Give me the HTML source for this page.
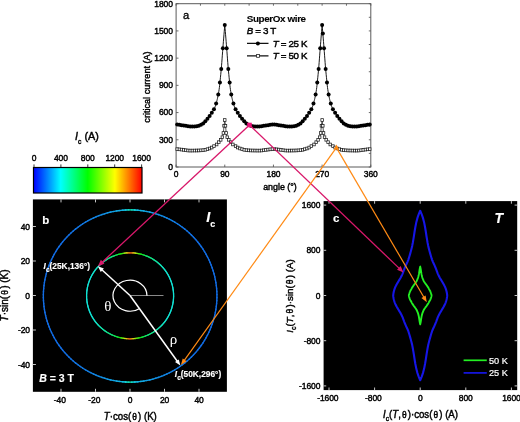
<!DOCTYPE html>
<html lang="en"><head><meta charset="utf-8"><title>Figure</title><style>html,body{margin:0;padding:0;background:#fff}</style></head><body>
<svg width="520" height="422" viewBox="0 0 520 422" style="display:block;filter:blur(0.4px);font-family:'Liberation Sans',sans-serif">
<defs><linearGradient id="cb" x1="0" x2="1" y1="0" y2="0"><stop offset="0" stop-color="#0000ff"/><stop offset="0.25" stop-color="#00ffff"/><stop offset="0.5" stop-color="#00ff00"/><stop offset="0.75" stop-color="#ffff00"/><stop offset="1" stop-color="#ff0000"/></linearGradient></defs>
<rect x="0" y="0" width="520" height="422" fill="#ffffff"/>
<rect x="32.9" y="199.4" width="194.0" height="192.4" fill="#000"/>
<rect x="323.6" y="201.1" width="193.60000000000002" height="189.00000000000003" fill="#000"/>
<rect x="176.1" y="3.7" width="194.70000000000002" height="163.30" fill="#fff" stroke="#5a5a5a" stroke-width="1"/>
<path d="M176.1 167.00h2.4M370.8 167.00h-2M370.8 153.39h-2M176.1 139.78h2.4M370.8 139.78h-2M370.8 126.17h-2M176.1 112.57h2.4M370.8 112.57h-2M370.8 98.96h-2M176.1 85.35h2.4M370.8 85.35h-2M370.8 71.74h-2M176.1 58.13h2.4M370.8 58.13h-2M370.8 44.52h-2M176.1 30.92h2.4M370.8 30.92h-2M370.8 17.31h-2M176.1 3.70h2.4M370.8 3.70h-2M176.10 167.0v-2.4M176.10 3.7v2M200.44 3.7v2M224.77 167.0v-2.4M224.77 3.7v2M249.11 3.7v2M273.45 167.0v-2.4M273.45 3.7v2M297.79 3.7v2M322.12 167.0v-2.4M322.12 3.7v2M346.46 3.7v2M370.80 167.0v-2.4M370.80 3.7v2" stroke="#5a5a5a" stroke-width="0.9" fill="none"/>
<text transform="translate(172.8 169.80)" font-size="8.5" text-anchor="end" fill="#000" stroke="#000" stroke-width="0.42" letter-spacing="-0.1">0</text>
<text transform="translate(172.8 142.58)" font-size="8.5" text-anchor="end" fill="#000" stroke="#000" stroke-width="0.42" letter-spacing="-0.1">300</text>
<text transform="translate(172.8 115.37)" font-size="8.5" text-anchor="end" fill="#000" stroke="#000" stroke-width="0.42" letter-spacing="-0.1">600</text>
<text transform="translate(172.8 88.15)" font-size="8.5" text-anchor="end" fill="#000" stroke="#000" stroke-width="0.42" letter-spacing="-0.1">900</text>
<text transform="translate(172.8 60.93)" font-size="8.5" text-anchor="end" fill="#000" stroke="#000" stroke-width="0.42" letter-spacing="-0.1">1200</text>
<text transform="translate(172.8 33.72)" font-size="8.5" text-anchor="end" fill="#000" stroke="#000" stroke-width="0.42" letter-spacing="-0.1">1500</text>
<text transform="translate(172.8 6.50)" font-size="8.5" text-anchor="end" fill="#000" stroke="#000" stroke-width="0.42" letter-spacing="-0.1">1800</text>
<text transform="translate(176.10 176.8)" font-size="8.5" text-anchor="middle" fill="#000" stroke="#000" stroke-width="0.42" letter-spacing="-0.1">0</text>
<text transform="translate(224.77 176.8)" font-size="8.5" text-anchor="middle" fill="#000" stroke="#000" stroke-width="0.42" letter-spacing="-0.1">90</text>
<text transform="translate(273.45 176.8)" font-size="8.5" text-anchor="middle" fill="#000" stroke="#000" stroke-width="0.42" letter-spacing="-0.1">180</text>
<text transform="translate(322.12 176.8)" font-size="8.5" text-anchor="middle" fill="#000" stroke="#000" stroke-width="0.42" letter-spacing="-0.1">270</text>
<text transform="translate(370.80 176.8)" font-size="8.5" text-anchor="middle" fill="#000" stroke="#000" stroke-width="0.42" letter-spacing="-0.1">360</text>
<text transform="translate(280 190.4)" font-size="8.9" text-anchor="middle" fill="#000" stroke="#000" stroke-width="0.42">angle (°)</text>
<text transform="translate(150.3 87.0) rotate(-90)" font-size="9.1" text-anchor="middle" fill="#000" stroke="#000" stroke-width="0.42">critical current (A)</text>
<text transform="translate(182.9 18.8)" font-size="11.2" fill="#000" stroke="#000" stroke-width="0.35">a</text>
<polyline points="176.10,149.04 176.37,149.06 176.64,149.09 176.91,149.11 177.18,149.14 177.45,149.16 177.72,149.19 177.99,149.22 178.26,149.24 178.53,149.27 178.80,149.30 179.07,149.32 179.34,149.35 179.62,149.38 179.89,149.41 180.16,149.44 180.43,149.46 180.70,149.49 180.97,149.52 181.24,149.55 181.51,149.58 181.78,149.61 182.05,149.65 182.32,149.68 182.59,149.72 182.86,149.76 183.13,149.80 183.40,149.84 183.67,149.88 183.94,149.93 184.21,149.97 184.48,150.02 184.75,150.06 185.02,150.11 185.29,150.15 185.56,150.19 185.84,150.23 186.11,150.27 186.38,150.31 186.65,150.35 186.92,150.39 187.19,150.42 187.46,150.45 187.73,150.48 188.00,150.50 188.27,150.53 188.54,150.54 188.81,150.56 189.08,150.57 189.35,150.58 189.62,150.58 189.89,150.58 190.16,150.58 190.43,150.58 190.70,150.58 190.97,150.58 191.24,150.57 191.51,150.57 191.78,150.57 192.05,150.57 192.32,150.57 192.60,150.57 192.87,150.56 193.14,150.56 193.41,150.56 193.68,150.55 193.95,150.55 194.22,150.55 194.49,150.54 194.76,150.54 195.03,150.54 195.30,150.53 195.57,150.53 195.84,150.52 196.11,150.52 196.38,150.51 196.65,150.51 196.92,150.50 197.19,150.50 197.46,150.49 197.73,150.49 198.00,150.48 198.27,150.48 198.54,150.47 198.81,150.46 199.09,150.45 199.36,150.44 199.63,150.42 199.90,150.41 200.17,150.40 200.44,150.38 200.71,150.36 200.98,150.34 201.25,150.32 201.52,150.30 201.79,150.28 202.06,150.26 202.33,150.24 202.60,150.21 202.87,150.18 203.14,150.16 203.41,150.13 203.68,150.10 203.95,150.07 204.22,150.03 204.49,149.99 204.76,149.94 205.03,149.88 205.31,149.80 205.58,149.73 205.85,149.64 206.12,149.56 206.39,149.48 206.66,149.40 206.93,149.32 207.20,149.25 207.47,149.17 207.74,149.10 208.01,149.02 208.28,148.94 208.55,148.85 208.82,148.77 209.09,148.67 209.36,148.58 209.63,148.48 209.90,148.38 210.17,148.28 210.44,148.17 210.71,148.05 210.98,147.93 211.25,147.81 211.52,147.68 211.79,147.53 212.07,147.38 212.34,147.21 212.61,147.03 212.88,146.85 213.15,146.67 213.42,146.48 213.69,146.30 213.96,146.13 214.23,145.97 214.50,145.82 214.77,145.67 215.04,145.53 215.31,145.38 215.58,145.22 215.85,145.06 216.12,144.88 216.39,144.68 216.66,144.46 216.93,144.22 217.20,143.95 217.47,143.67 217.74,143.37 218.01,143.07 218.28,142.78 218.56,142.48 218.83,142.17 219.10,141.85 219.37,141.53 219.64,141.20 219.91,140.86 220.18,140.51 220.45,140.16 220.72,139.81 220.99,139.45 221.26,139.05 221.53,138.60 221.80,138.15 222.07,137.71 222.34,137.21 222.61,136.60 222.88,135.81 223.15,134.79 223.42,132.34 223.69,129.17 223.96,126.69 224.23,124.36 224.50,122.13 224.77,120.01 225.05,122.13 225.32,124.36 225.59,126.69 225.86,129.17 226.13,132.34 226.40,134.79 226.67,135.81 226.94,136.60 227.21,137.21 227.48,137.71 227.75,138.15 228.02,138.60 228.29,139.05 228.56,139.45 228.83,139.81 229.10,140.16 229.37,140.51 229.64,140.86 229.91,141.20 230.18,141.53 230.45,141.85 230.72,142.17 230.99,142.48 231.26,142.78 231.54,143.07 231.81,143.37 232.08,143.67 232.35,143.95 232.62,144.22 232.89,144.46 233.16,144.68 233.43,144.88 233.70,145.06 233.97,145.22 234.24,145.38 234.51,145.53 234.78,145.67 235.05,145.82 235.32,145.97 235.59,146.13 235.86,146.30 236.13,146.48 236.40,146.67 236.67,146.85 236.94,147.03 237.21,147.21 237.48,147.38 237.75,147.53 238.03,147.68 238.30,147.81 238.57,147.93 238.84,148.05 239.11,148.17 239.38,148.28 239.65,148.38 239.92,148.48 240.19,148.58 240.46,148.67 240.73,148.77 241.00,148.85 241.27,148.94 241.54,149.02 241.81,149.10 242.08,149.17 242.35,149.25 242.62,149.32 242.89,149.40 243.16,149.48 243.43,149.56 243.70,149.64 243.97,149.73 244.25,149.80 244.52,149.88 244.79,149.94 245.06,149.99 245.33,150.03 245.60,150.07 245.87,150.10 246.14,150.13 246.41,150.16 246.68,150.18 246.95,150.21 247.22,150.24 247.49,150.26 247.76,150.28 248.03,150.30 248.30,150.32 248.57,150.34 248.84,150.36 249.11,150.38 249.38,150.40 249.65,150.41 249.92,150.42 250.19,150.44 250.46,150.45 250.74,150.46 251.01,150.47 251.28,150.48 251.55,150.48 251.82,150.49 252.09,150.49 252.36,150.50 252.63,150.50 252.90,150.51 253.17,150.51 253.44,150.52 253.71,150.52 253.98,150.53 254.25,150.53 254.52,150.54 254.79,150.54 255.06,150.54 255.33,150.55 255.60,150.55 255.87,150.55 256.14,150.56 256.41,150.56 256.68,150.56 256.95,150.57 257.23,150.57 257.50,150.57 257.77,150.57 258.04,150.57 258.31,150.57 258.58,150.58 258.85,150.58 259.12,150.58 259.39,150.58 259.66,150.58 259.93,150.58 260.20,150.58 260.47,150.57 260.74,150.56 261.01,150.54 261.28,150.53 261.55,150.50 261.82,150.48 262.09,150.45 262.36,150.42 262.63,150.39 262.90,150.35 263.17,150.31 263.44,150.27 263.72,150.23 263.99,150.19 264.26,150.15 264.53,150.11 264.80,150.06 265.07,150.02 265.34,149.97 265.61,149.93 265.88,149.88 266.15,149.84 266.42,149.80 266.69,149.76 266.96,149.72 267.23,149.68 267.50,149.65 267.77,149.61 268.04,149.58 268.31,149.55 268.58,149.52 268.85,149.49 269.12,149.46 269.39,149.44 269.66,149.41 269.93,149.38 270.20,149.35 270.48,149.32 270.75,149.30 271.02,149.27 271.29,149.24 271.56,149.22 271.83,149.19 272.10,149.16 272.37,149.14 272.64,149.11 272.91,149.09 273.18,149.06 273.45,149.04 273.72,149.06 273.99,149.09 274.26,149.11 274.53,149.14 274.80,149.16 275.07,149.19 275.34,149.22 275.61,149.24 275.88,149.27 276.15,149.30 276.42,149.32 276.69,149.35 276.97,149.38 277.24,149.41 277.51,149.44 277.78,149.46 278.05,149.49 278.32,149.52 278.59,149.55 278.86,149.58 279.13,149.61 279.40,149.65 279.67,149.68 279.94,149.72 280.21,149.76 280.48,149.80 280.75,149.84 281.02,149.88 281.29,149.93 281.56,149.97 281.83,150.02 282.10,150.06 282.37,150.11 282.64,150.15 282.91,150.19 283.19,150.23 283.46,150.27 283.73,150.31 284.00,150.35 284.27,150.39 284.54,150.42 284.81,150.45 285.08,150.48 285.35,150.50 285.62,150.53 285.89,150.54 286.16,150.56 286.43,150.57 286.70,150.58 286.97,150.58 287.24,150.58 287.51,150.58 287.78,150.58 288.05,150.58 288.32,150.58 288.59,150.57 288.86,150.57 289.13,150.57 289.40,150.57 289.68,150.57 289.95,150.57 290.22,150.56 290.49,150.56 290.76,150.56 291.03,150.55 291.30,150.55 291.57,150.55 291.84,150.54 292.11,150.54 292.38,150.54 292.65,150.53 292.92,150.53 293.19,150.52 293.46,150.52 293.73,150.51 294.00,150.51 294.27,150.50 294.54,150.50 294.81,150.49 295.08,150.49 295.35,150.48 295.62,150.48 295.89,150.47 296.16,150.46 296.44,150.45 296.71,150.44 296.98,150.42 297.25,150.41 297.52,150.40 297.79,150.38 298.06,150.36 298.33,150.34 298.60,150.32 298.87,150.30 299.14,150.28 299.41,150.26 299.68,150.24 299.95,150.21 300.22,150.18 300.49,150.16 300.76,150.13 301.03,150.10 301.30,150.07 301.57,150.03 301.84,149.99 302.11,149.94 302.38,149.88 302.65,149.80 302.93,149.73 303.20,149.64 303.47,149.56 303.74,149.48 304.01,149.40 304.28,149.32 304.55,149.25 304.82,149.17 305.09,149.10 305.36,149.02 305.63,148.94 305.90,148.85 306.17,148.77 306.44,148.67 306.71,148.58 306.98,148.48 307.25,148.38 307.52,148.28 307.79,148.17 308.06,148.05 308.33,147.93 308.60,147.81 308.87,147.68 309.14,147.53 309.42,147.38 309.69,147.21 309.96,147.03 310.23,146.85 310.50,146.67 310.77,146.48 311.04,146.30 311.31,146.13 311.58,145.97 311.85,145.82 312.12,145.67 312.39,145.53 312.66,145.38 312.93,145.22 313.20,145.06 313.47,144.88 313.74,144.68 314.01,144.46 314.28,144.22 314.55,143.95 314.82,143.67 315.09,143.37 315.36,143.07 315.63,142.78 315.91,142.48 316.18,142.17 316.45,141.85 316.72,141.53 316.99,141.20 317.26,140.86 317.53,140.51 317.80,140.16 318.07,139.81 318.34,139.45 318.61,139.05 318.88,138.60 319.15,138.15 319.42,137.71 319.69,137.21 319.96,136.60 320.23,135.81 320.50,134.79 320.77,132.34 321.04,129.17 321.31,126.69 321.58,124.36 321.85,122.13 322.12,120.01 322.40,122.13 322.67,124.36 322.94,126.69 323.21,129.17 323.48,132.34 323.75,134.79 324.02,135.81 324.29,136.60 324.56,137.21 324.83,137.71 325.10,138.15 325.37,138.60 325.64,139.05 325.91,139.45 326.18,139.81 326.45,140.16 326.72,140.51 326.99,140.86 327.26,141.20 327.53,141.53 327.80,141.85 328.07,142.17 328.34,142.48 328.62,142.78 328.89,143.07 329.16,143.37 329.43,143.67 329.70,143.95 329.97,144.22 330.24,144.46 330.51,144.68 330.78,144.88 331.05,145.06 331.32,145.22 331.59,145.38 331.86,145.53 332.13,145.67 332.40,145.82 332.67,145.97 332.94,146.13 333.21,146.30 333.48,146.48 333.75,146.67 334.02,146.85 334.29,147.03 334.56,147.21 334.83,147.38 335.11,147.53 335.38,147.68 335.65,147.81 335.92,147.93 336.19,148.05 336.46,148.17 336.73,148.28 337.00,148.38 337.27,148.48 337.54,148.58 337.81,148.67 338.08,148.77 338.35,148.85 338.62,148.94 338.89,149.02 339.16,149.10 339.43,149.17 339.70,149.25 339.97,149.32 340.24,149.40 340.51,149.48 340.78,149.56 341.05,149.64 341.32,149.73 341.60,149.80 341.87,149.88 342.14,149.94 342.41,149.99 342.68,150.03 342.95,150.07 343.22,150.10 343.49,150.13 343.76,150.16 344.03,150.18 344.30,150.21 344.57,150.24 344.84,150.26 345.11,150.28 345.38,150.30 345.65,150.32 345.92,150.34 346.19,150.36 346.46,150.38 346.73,150.40 347.00,150.41 347.27,150.42 347.54,150.44 347.81,150.45 348.09,150.46 348.36,150.47 348.63,150.48 348.90,150.48 349.17,150.49 349.44,150.49 349.71,150.50 349.98,150.50 350.25,150.51 350.52,150.51 350.79,150.52 351.06,150.52 351.33,150.53 351.60,150.53 351.87,150.54 352.14,150.54 352.41,150.54 352.68,150.55 352.95,150.55 353.22,150.55 353.49,150.56 353.76,150.56 354.03,150.56 354.30,150.57 354.58,150.57 354.85,150.57 355.12,150.57 355.39,150.57 355.66,150.57 355.93,150.58 356.20,150.58 356.47,150.58 356.74,150.58 357.01,150.58 357.28,150.58 357.55,150.58 357.82,150.57 358.09,150.56 358.36,150.54 358.63,150.53 358.90,150.50 359.17,150.48 359.44,150.45 359.71,150.42 359.98,150.39 360.25,150.35 360.52,150.31 360.79,150.27 361.07,150.23 361.34,150.19 361.61,150.15 361.88,150.11 362.15,150.06 362.42,150.02 362.69,149.97 362.96,149.93 363.23,149.88 363.50,149.84 363.77,149.80 364.04,149.76 364.31,149.72 364.58,149.68 364.85,149.65 365.12,149.61 365.39,149.58 365.66,149.55 365.93,149.52 366.20,149.49 366.47,149.46 366.74,149.44 367.01,149.41 367.28,149.38 367.56,149.35 367.83,149.32 368.10,149.30 368.37,149.27 368.64,149.24 368.91,149.22 369.18,149.19 369.45,149.16 369.72,149.14 369.99,149.11 370.26,149.09 370.53,149.06 370.80,149.04" fill="none" stroke="#222" stroke-width="0.8"/>
<polyline points="176.10,124.18 176.37,124.24 176.64,124.29 176.91,124.35 177.18,124.41 177.45,124.46 177.72,124.52 177.99,124.57 178.26,124.63 178.53,124.68 178.80,124.73 179.07,124.79 179.34,124.84 179.62,124.89 179.89,124.94 180.16,124.99 180.43,125.04 180.70,125.08 180.97,125.13 181.24,125.18 181.51,125.22 181.78,125.27 182.05,125.31 182.32,125.36 182.59,125.40 182.86,125.44 183.13,125.48 183.40,125.52 183.67,125.56 183.94,125.59 184.21,125.63 184.48,125.67 184.75,125.70 185.02,125.74 185.29,125.78 185.56,125.82 185.84,125.86 186.11,125.90 186.38,125.93 186.65,125.97 186.92,126.01 187.19,126.05 187.46,126.09 187.73,126.12 188.00,126.16 188.27,126.19 188.54,126.23 188.81,126.26 189.08,126.29 189.35,126.32 189.62,126.35 189.89,126.38 190.16,126.40 190.43,126.43 190.70,126.45 190.97,126.47 191.24,126.49 191.51,126.50 191.78,126.51 192.05,126.52 192.32,126.53 192.60,126.54 192.87,126.54 193.14,126.54 193.41,126.53 193.68,126.52 193.95,126.50 194.22,126.48 194.49,126.46 194.76,126.44 195.03,126.41 195.30,126.37 195.57,126.34 195.84,126.30 196.11,126.26 196.38,126.22 196.65,126.18 196.92,126.13 197.19,126.09 197.46,126.04 197.73,125.99 198.00,125.94 198.27,125.87 198.54,125.80 198.81,125.72 199.09,125.62 199.36,125.52 199.63,125.41 199.90,125.29 200.17,125.16 200.44,125.03 200.71,124.89 200.98,124.74 201.25,124.59 201.52,124.44 201.79,124.28 202.06,124.11 202.33,123.94 202.60,123.77 202.87,123.60 203.14,123.41 203.41,123.20 203.68,122.97 203.95,122.72 204.22,122.46 204.49,122.18 204.76,121.90 205.03,121.61 205.31,121.32 205.58,121.02 205.85,120.73 206.12,120.44 206.39,120.13 206.66,119.82 206.93,119.50 207.20,119.17 207.47,118.83 207.74,118.49 208.01,118.14 208.28,117.79 208.55,117.43 208.82,117.07 209.09,116.69 209.36,116.31 209.63,115.92 209.90,115.52 210.17,115.12 210.44,114.71 210.71,114.30 210.98,113.89 211.25,113.47 211.52,113.07 211.79,112.68 212.07,112.29 212.34,111.91 212.61,111.52 212.88,111.13 213.15,110.72 213.42,110.29 213.69,109.83 213.96,109.34 214.23,108.82 214.50,108.25 214.77,107.62 215.04,106.92 215.31,106.16 215.58,105.35 215.85,104.49 216.12,103.59 216.39,102.65 216.66,101.68 216.93,100.66 217.20,99.56 217.47,98.39 217.74,97.14 218.01,95.82 218.28,94.42 218.56,92.94 218.83,91.34 219.10,89.58 219.37,87.62 219.64,85.29 219.91,82.62 220.18,79.91 220.45,77.29 220.72,74.66 220.99,71.93 221.26,69.02 221.53,65.84 221.80,62.43 222.07,58.86 222.34,55.23 222.61,51.63 222.88,48.15 223.15,44.77 223.42,41.42 223.69,38.09 223.96,34.78 224.23,31.50 224.50,28.25 224.77,25.02 225.05,28.25 225.32,31.50 225.59,34.78 225.86,38.09 226.13,41.42 226.40,44.77 226.67,48.15 226.94,51.63 227.21,55.23 227.48,58.86 227.75,62.43 228.02,65.84 228.29,69.02 228.56,71.93 228.83,74.66 229.10,77.29 229.37,79.91 229.64,82.62 229.91,85.29 230.18,87.62 230.45,89.58 230.72,91.34 230.99,92.94 231.26,94.42 231.54,95.82 231.81,97.14 232.08,98.39 232.35,99.56 232.62,100.66 232.89,101.68 233.16,102.65 233.43,103.59 233.70,104.49 233.97,105.35 234.24,106.16 234.51,106.92 234.78,107.62 235.05,108.25 235.32,108.82 235.59,109.34 235.86,109.83 236.13,110.29 236.40,110.72 236.67,111.13 236.94,111.52 237.21,111.91 237.48,112.29 237.75,112.68 238.03,113.07 238.30,113.47 238.57,113.89 238.84,114.30 239.11,114.71 239.38,115.12 239.65,115.52 239.92,115.92 240.19,116.31 240.46,116.69 240.73,117.07 241.00,117.43 241.27,117.79 241.54,118.14 241.81,118.49 242.08,118.83 242.35,119.17 242.62,119.50 242.89,119.82 243.16,120.13 243.43,120.44 243.70,120.73 243.97,121.02 244.25,121.32 244.52,121.61 244.79,121.90 245.06,122.18 245.33,122.46 245.60,122.72 245.87,122.97 246.14,123.20 246.41,123.41 246.68,123.60 246.95,123.77 247.22,123.94 247.49,124.11 247.76,124.28 248.03,124.44 248.30,124.59 248.57,124.74 248.84,124.89 249.11,125.03 249.38,125.16 249.65,125.29 249.92,125.41 250.19,125.52 250.46,125.62 250.74,125.72 251.01,125.80 251.28,125.87 251.55,125.94 251.82,125.99 252.09,126.04 252.36,126.09 252.63,126.13 252.90,126.18 253.17,126.22 253.44,126.26 253.71,126.30 253.98,126.34 254.25,126.37 254.52,126.41 254.79,126.44 255.06,126.46 255.33,126.48 255.60,126.50 255.87,126.52 256.14,126.53 256.41,126.54 256.68,126.54 256.95,126.54 257.23,126.53 257.50,126.52 257.77,126.51 258.04,126.50 258.31,126.49 258.58,126.47 258.85,126.45 259.12,126.43 259.39,126.40 259.66,126.38 259.93,126.35 260.20,126.32 260.47,126.29 260.74,126.26 261.01,126.23 261.28,126.19 261.55,126.16 261.82,126.12 262.09,126.09 262.36,126.05 262.63,126.01 262.90,125.97 263.17,125.93 263.44,125.90 263.72,125.86 263.99,125.82 264.26,125.78 264.53,125.74 264.80,125.70 265.07,125.67 265.34,125.63 265.61,125.59 265.88,125.56 266.15,125.52 266.42,125.48 266.69,125.44 266.96,125.40 267.23,125.36 267.50,125.31 267.77,125.27 268.04,125.22 268.31,125.18 268.58,125.13 268.85,125.08 269.12,125.04 269.39,124.99 269.66,124.94 269.93,124.89 270.20,124.84 270.48,124.79 270.75,124.73 271.02,124.68 271.29,124.63 271.56,124.57 271.83,124.52 272.10,124.46 272.37,124.41 272.64,124.35 272.91,124.29 273.18,124.24 273.45,124.18 273.72,124.24 273.99,124.29 274.26,124.35 274.53,124.41 274.80,124.46 275.07,124.52 275.34,124.57 275.61,124.63 275.88,124.68 276.15,124.73 276.42,124.79 276.69,124.84 276.97,124.89 277.24,124.94 277.51,124.99 277.78,125.04 278.05,125.08 278.32,125.13 278.59,125.18 278.86,125.22 279.13,125.27 279.40,125.31 279.67,125.36 279.94,125.40 280.21,125.44 280.48,125.48 280.75,125.52 281.02,125.56 281.29,125.59 281.56,125.63 281.83,125.67 282.10,125.70 282.37,125.74 282.64,125.78 282.91,125.82 283.19,125.86 283.46,125.90 283.73,125.93 284.00,125.97 284.27,126.01 284.54,126.05 284.81,126.09 285.08,126.12 285.35,126.16 285.62,126.19 285.89,126.23 286.16,126.26 286.43,126.29 286.70,126.32 286.97,126.35 287.24,126.38 287.51,126.40 287.78,126.43 288.05,126.45 288.32,126.47 288.59,126.49 288.86,126.50 289.13,126.51 289.40,126.52 289.68,126.53 289.95,126.54 290.22,126.54 290.49,126.54 290.76,126.53 291.03,126.52 291.30,126.50 291.57,126.48 291.84,126.46 292.11,126.44 292.38,126.41 292.65,126.37 292.92,126.34 293.19,126.30 293.46,126.26 293.73,126.22 294.00,126.18 294.27,126.13 294.54,126.09 294.81,126.04 295.08,125.99 295.35,125.94 295.62,125.87 295.89,125.80 296.16,125.72 296.44,125.62 296.71,125.52 296.98,125.41 297.25,125.29 297.52,125.16 297.79,125.03 298.06,124.89 298.33,124.74 298.60,124.59 298.87,124.44 299.14,124.28 299.41,124.11 299.68,123.94 299.95,123.77 300.22,123.60 300.49,123.41 300.76,123.20 301.03,122.97 301.30,122.72 301.57,122.46 301.84,122.18 302.11,121.90 302.38,121.61 302.65,121.32 302.93,121.02 303.20,120.73 303.47,120.44 303.74,120.13 304.01,119.82 304.28,119.50 304.55,119.17 304.82,118.83 305.09,118.49 305.36,118.14 305.63,117.79 305.90,117.43 306.17,117.07 306.44,116.69 306.71,116.31 306.98,115.92 307.25,115.52 307.52,115.12 307.79,114.71 308.06,114.30 308.33,113.89 308.60,113.47 308.87,113.07 309.14,112.68 309.42,112.29 309.69,111.91 309.96,111.52 310.23,111.13 310.50,110.72 310.77,110.29 311.04,109.83 311.31,109.34 311.58,108.82 311.85,108.25 312.12,107.62 312.39,106.92 312.66,106.16 312.93,105.35 313.20,104.49 313.47,103.59 313.74,102.65 314.01,101.68 314.28,100.66 314.55,99.56 314.82,98.39 315.09,97.14 315.36,95.82 315.63,94.42 315.91,92.94 316.18,91.34 316.45,89.58 316.72,87.62 316.99,85.29 317.26,82.62 317.53,79.91 317.80,77.29 318.07,74.66 318.34,71.93 318.61,69.02 318.88,65.84 319.15,62.43 319.42,58.86 319.69,55.23 319.96,51.63 320.23,48.15 320.50,44.77 320.77,41.42 321.04,38.09 321.31,34.78 321.58,31.50 321.85,28.25 322.12,25.02 322.40,28.25 322.67,31.50 322.94,34.78 323.21,38.09 323.48,41.42 323.75,44.77 324.02,48.15 324.29,51.63 324.56,55.23 324.83,58.86 325.10,62.43 325.37,65.84 325.64,69.02 325.91,71.93 326.18,74.66 326.45,77.29 326.72,79.91 326.99,82.62 327.26,85.29 327.53,87.62 327.80,89.58 328.07,91.34 328.34,92.94 328.62,94.42 328.89,95.82 329.16,97.14 329.43,98.39 329.70,99.56 329.97,100.66 330.24,101.68 330.51,102.65 330.78,103.59 331.05,104.49 331.32,105.35 331.59,106.16 331.86,106.92 332.13,107.62 332.40,108.25 332.67,108.82 332.94,109.34 333.21,109.83 333.48,110.29 333.75,110.72 334.02,111.13 334.29,111.52 334.56,111.91 334.83,112.29 335.11,112.68 335.38,113.07 335.65,113.47 335.92,113.89 336.19,114.30 336.46,114.71 336.73,115.12 337.00,115.52 337.27,115.92 337.54,116.31 337.81,116.69 338.08,117.07 338.35,117.43 338.62,117.79 338.89,118.14 339.16,118.49 339.43,118.83 339.70,119.17 339.97,119.50 340.24,119.82 340.51,120.13 340.78,120.44 341.05,120.73 341.32,121.02 341.60,121.32 341.87,121.61 342.14,121.90 342.41,122.18 342.68,122.46 342.95,122.72 343.22,122.97 343.49,123.20 343.76,123.41 344.03,123.60 344.30,123.77 344.57,123.94 344.84,124.11 345.11,124.28 345.38,124.44 345.65,124.59 345.92,124.74 346.19,124.89 346.46,125.03 346.73,125.16 347.00,125.29 347.27,125.41 347.54,125.52 347.81,125.62 348.09,125.72 348.36,125.80 348.63,125.87 348.90,125.94 349.17,125.99 349.44,126.04 349.71,126.09 349.98,126.13 350.25,126.18 350.52,126.22 350.79,126.26 351.06,126.30 351.33,126.34 351.60,126.37 351.87,126.41 352.14,126.44 352.41,126.46 352.68,126.48 352.95,126.50 353.22,126.52 353.49,126.53 353.76,126.54 354.03,126.54 354.30,126.54 354.58,126.53 354.85,126.52 355.12,126.51 355.39,126.50 355.66,126.49 355.93,126.47 356.20,126.45 356.47,126.43 356.74,126.40 357.01,126.38 357.28,126.35 357.55,126.32 357.82,126.29 358.09,126.26 358.36,126.23 358.63,126.19 358.90,126.16 359.17,126.12 359.44,126.09 359.71,126.05 359.98,126.01 360.25,125.97 360.52,125.93 360.79,125.90 361.07,125.86 361.34,125.82 361.61,125.78 361.88,125.74 362.15,125.70 362.42,125.67 362.69,125.63 362.96,125.59 363.23,125.56 363.50,125.52 363.77,125.48 364.04,125.44 364.31,125.40 364.58,125.36 364.85,125.31 365.12,125.27 365.39,125.22 365.66,125.18 365.93,125.13 366.20,125.08 366.47,125.04 366.74,124.99 367.01,124.94 367.28,124.89 367.56,124.84 367.83,124.79 368.10,124.73 368.37,124.68 368.64,124.63 368.91,124.57 369.18,124.52 369.45,124.46 369.72,124.41 369.99,124.35 370.26,124.29 370.53,124.24 370.80,124.18" fill="none" stroke="#000" stroke-width="0.9"/>
<g fill="#fff" stroke="#1a1a1a" stroke-width="0.75"><rect x="175.93" y="147.79" width="2.5" height="2.7"/><rect x="178.09" y="148.00" width="2.5" height="2.7"/><rect x="180.26" y="148.23" width="2.5" height="2.7"/><rect x="182.42" y="148.53" width="2.5" height="2.7"/><rect x="184.59" y="148.88" width="2.5" height="2.7"/><rect x="186.75" y="149.15" width="2.5" height="2.7"/><rect x="188.91" y="149.23" width="2.5" height="2.7"/><rect x="191.07" y="149.22" width="2.5" height="2.7"/><rect x="193.24" y="149.19" width="2.5" height="2.7"/><rect x="195.40" y="149.16" width="2.5" height="2.7"/><rect x="197.56" y="149.11" width="2.5" height="2.7"/><rect x="199.73" y="148.99" width="2.5" height="2.7"/><rect x="201.89" y="148.81" width="2.5" height="2.7"/><rect x="204.06" y="148.45" width="2.5" height="2.7"/><rect x="206.22" y="147.82" width="2.5" height="2.7"/><rect x="208.38" y="147.13" width="2.5" height="2.7"/><rect x="210.54" y="146.18" width="2.5" height="2.7"/><rect x="212.71" y="144.78" width="2.5" height="2.7"/><rect x="215.41" y="143.11" width="2.5" height="2.7"/><rect x="217.58" y="140.82" width="2.5" height="2.7"/><rect x="219.47" y="138.46" width="2.5" height="2.7"/><rect x="221.09" y="135.86" width="2.5" height="2.7"/><rect x="222.12" y="131.63" width="2.5" height="2.7"/><rect x="222.82" y="124.39" width="2.5" height="2.7"/><rect x="223.52" y="118.66" width="2.5" height="2.7"/><rect x="224.23" y="124.39" width="2.5" height="2.7"/><rect x="224.93" y="131.63" width="2.5" height="2.7"/><rect x="225.96" y="135.86" width="2.5" height="2.7"/><rect x="227.58" y="138.46" width="2.5" height="2.7"/><rect x="229.47" y="140.82" width="2.5" height="2.7"/><rect x="231.64" y="143.11" width="2.5" height="2.7"/><rect x="234.34" y="144.78" width="2.5" height="2.7"/><rect x="236.50" y="146.18" width="2.5" height="2.7"/><rect x="238.67" y="147.13" width="2.5" height="2.7"/><rect x="240.83" y="147.82" width="2.5" height="2.7"/><rect x="243.00" y="148.45" width="2.5" height="2.7"/><rect x="245.16" y="148.81" width="2.5" height="2.7"/><rect x="247.32" y="148.99" width="2.5" height="2.7"/><rect x="249.49" y="149.11" width="2.5" height="2.7"/><rect x="251.65" y="149.16" width="2.5" height="2.7"/><rect x="253.81" y="149.19" width="2.5" height="2.7"/><rect x="255.98" y="149.22" width="2.5" height="2.7"/><rect x="258.14" y="149.23" width="2.5" height="2.7"/><rect x="260.30" y="149.15" width="2.5" height="2.7"/><rect x="262.47" y="148.88" width="2.5" height="2.7"/><rect x="264.63" y="148.53" width="2.5" height="2.7"/><rect x="266.79" y="148.23" width="2.5" height="2.7"/><rect x="268.95" y="148.00" width="2.5" height="2.7"/><rect x="271.12" y="147.79" width="2.5" height="2.7"/><rect x="273.28" y="147.79" width="2.5" height="2.7"/><rect x="275.44" y="148.00" width="2.5" height="2.7"/><rect x="277.61" y="148.23" width="2.5" height="2.7"/><rect x="279.77" y="148.53" width="2.5" height="2.7"/><rect x="281.94" y="148.88" width="2.5" height="2.7"/><rect x="284.10" y="149.15" width="2.5" height="2.7"/><rect x="286.26" y="149.23" width="2.5" height="2.7"/><rect x="288.43" y="149.22" width="2.5" height="2.7"/><rect x="290.59" y="149.19" width="2.5" height="2.7"/><rect x="292.75" y="149.16" width="2.5" height="2.7"/><rect x="294.91" y="149.11" width="2.5" height="2.7"/><rect x="297.08" y="148.99" width="2.5" height="2.7"/><rect x="299.24" y="148.81" width="2.5" height="2.7"/><rect x="301.40" y="148.45" width="2.5" height="2.7"/><rect x="303.57" y="147.82" width="2.5" height="2.7"/><rect x="305.73" y="147.13" width="2.5" height="2.7"/><rect x="307.89" y="146.18" width="2.5" height="2.7"/><rect x="310.06" y="144.78" width="2.5" height="2.7"/><rect x="312.76" y="143.11" width="2.5" height="2.7"/><rect x="314.93" y="140.82" width="2.5" height="2.7"/><rect x="316.82" y="138.46" width="2.5" height="2.7"/><rect x="318.44" y="135.86" width="2.5" height="2.7"/><rect x="319.47" y="131.63" width="2.5" height="2.7"/><rect x="320.17" y="124.39" width="2.5" height="2.7"/><rect x="320.88" y="118.66" width="2.5" height="2.7"/><rect x="321.58" y="124.39" width="2.5" height="2.7"/><rect x="322.28" y="131.63" width="2.5" height="2.7"/><rect x="323.31" y="135.86" width="2.5" height="2.7"/><rect x="324.93" y="138.46" width="2.5" height="2.7"/><rect x="326.82" y="140.82" width="2.5" height="2.7"/><rect x="328.99" y="143.11" width="2.5" height="2.7"/><rect x="331.69" y="144.78" width="2.5" height="2.7"/><rect x="333.86" y="146.18" width="2.5" height="2.7"/><rect x="336.02" y="147.13" width="2.5" height="2.7"/><rect x="338.18" y="147.82" width="2.5" height="2.7"/><rect x="340.35" y="148.45" width="2.5" height="2.7"/><rect x="342.51" y="148.81" width="2.5" height="2.7"/><rect x="344.67" y="148.99" width="2.5" height="2.7"/><rect x="346.84" y="149.11" width="2.5" height="2.7"/><rect x="349.00" y="149.16" width="2.5" height="2.7"/><rect x="351.16" y="149.19" width="2.5" height="2.7"/><rect x="353.33" y="149.22" width="2.5" height="2.7"/><rect x="355.49" y="149.23" width="2.5" height="2.7"/><rect x="357.65" y="149.15" width="2.5" height="2.7"/><rect x="359.82" y="148.88" width="2.5" height="2.7"/><rect x="361.98" y="148.53" width="2.5" height="2.7"/><rect x="364.14" y="148.23" width="2.5" height="2.7"/><rect x="366.31" y="148.00" width="2.5" height="2.7"/><rect x="368.47" y="147.79" width="2.5" height="2.7"/></g>
<g fill="#000"><circle cx="177.18" cy="124.41" r="2.0"/><circle cx="179.34" cy="124.84" r="2.0"/><circle cx="181.51" cy="125.22" r="2.0"/><circle cx="183.67" cy="125.56" r="2.0"/><circle cx="185.84" cy="125.86" r="2.0"/><circle cx="188.00" cy="126.16" r="2.0"/><circle cx="190.16" cy="126.40" r="2.0"/><circle cx="192.32" cy="126.53" r="2.0"/><circle cx="194.49" cy="126.46" r="2.0"/><circle cx="196.65" cy="126.18" r="2.0"/><circle cx="198.81" cy="125.72" r="2.0"/><circle cx="200.98" cy="124.74" r="2.0"/><circle cx="203.14" cy="123.41" r="2.0"/><circle cx="205.31" cy="121.32" r="2.0"/><circle cx="207.47" cy="118.83" r="2.0"/><circle cx="209.63" cy="115.92" r="2.0"/><circle cx="211.79" cy="112.68" r="2.0"/><circle cx="213.96" cy="109.34" r="2.0"/><circle cx="216.12" cy="103.59" r="2.0"/><circle cx="218.28" cy="94.42" r="2.0"/><circle cx="219.91" cy="82.62" r="2.0"/><circle cx="221.26" cy="69.02" r="2.0"/><circle cx="222.88" cy="48.15" r="2.0"/><circle cx="224.77" cy="25.02" r="2.0"/><circle cx="226.67" cy="48.15" r="2.0"/><circle cx="228.29" cy="69.02" r="2.0"/><circle cx="229.64" cy="82.62" r="2.0"/><circle cx="231.26" cy="94.42" r="2.0"/><circle cx="233.43" cy="103.59" r="2.0"/><circle cx="235.59" cy="109.34" r="2.0"/><circle cx="237.75" cy="112.68" r="2.0"/><circle cx="239.92" cy="115.92" r="2.0"/><circle cx="242.08" cy="118.83" r="2.0"/><circle cx="244.25" cy="121.32" r="2.0"/><circle cx="246.41" cy="123.41" r="2.0"/><circle cx="248.57" cy="124.74" r="2.0"/><circle cx="250.74" cy="125.72" r="2.0"/><circle cx="252.90" cy="126.18" r="2.0"/><circle cx="255.06" cy="126.46" r="2.0"/><circle cx="257.23" cy="126.53" r="2.0"/><circle cx="259.39" cy="126.40" r="2.0"/><circle cx="261.55" cy="126.16" r="2.0"/><circle cx="263.72" cy="125.86" r="2.0"/><circle cx="265.88" cy="125.56" r="2.0"/><circle cx="268.04" cy="125.22" r="2.0"/><circle cx="270.20" cy="124.84" r="2.0"/><circle cx="272.37" cy="124.41" r="2.0"/><circle cx="274.53" cy="124.41" r="2.0"/><circle cx="276.69" cy="124.84" r="2.0"/><circle cx="278.86" cy="125.22" r="2.0"/><circle cx="281.02" cy="125.56" r="2.0"/><circle cx="283.19" cy="125.86" r="2.0"/><circle cx="285.35" cy="126.16" r="2.0"/><circle cx="287.51" cy="126.40" r="2.0"/><circle cx="289.68" cy="126.53" r="2.0"/><circle cx="291.84" cy="126.46" r="2.0"/><circle cx="294.00" cy="126.18" r="2.0"/><circle cx="296.16" cy="125.72" r="2.0"/><circle cx="298.33" cy="124.74" r="2.0"/><circle cx="300.49" cy="123.41" r="2.0"/><circle cx="302.65" cy="121.32" r="2.0"/><circle cx="304.82" cy="118.83" r="2.0"/><circle cx="306.98" cy="115.92" r="2.0"/><circle cx="309.14" cy="112.68" r="2.0"/><circle cx="311.31" cy="109.34" r="2.0"/><circle cx="313.47" cy="103.59" r="2.0"/><circle cx="315.63" cy="94.42" r="2.0"/><circle cx="317.26" cy="82.62" r="2.0"/><circle cx="318.61" cy="69.02" r="2.0"/><circle cx="320.23" cy="48.15" r="2.0"/><circle cx="322.12" cy="25.02" r="2.0"/><circle cx="324.02" cy="48.15" r="2.0"/><circle cx="325.64" cy="69.02" r="2.0"/><circle cx="326.99" cy="82.62" r="2.0"/><circle cx="328.62" cy="94.42" r="2.0"/><circle cx="330.78" cy="103.59" r="2.0"/><circle cx="332.94" cy="109.34" r="2.0"/><circle cx="335.11" cy="112.68" r="2.0"/><circle cx="337.27" cy="115.92" r="2.0"/><circle cx="339.43" cy="118.83" r="2.0"/><circle cx="341.60" cy="121.32" r="2.0"/><circle cx="343.76" cy="123.41" r="2.0"/><circle cx="345.92" cy="124.74" r="2.0"/><circle cx="348.09" cy="125.72" r="2.0"/><circle cx="350.25" cy="126.18" r="2.0"/><circle cx="352.41" cy="126.46" r="2.0"/><circle cx="354.58" cy="126.53" r="2.0"/><circle cx="356.74" cy="126.40" r="2.0"/><circle cx="358.90" cy="126.16" r="2.0"/><circle cx="361.07" cy="125.86" r="2.0"/><circle cx="363.23" cy="125.56" r="2.0"/><circle cx="365.39" cy="125.22" r="2.0"/><circle cx="367.56" cy="124.84" r="2.0"/><circle cx="369.72" cy="124.41" r="2.0"/><circle cx="322.83" cy="33.46" r="2.0"/></g>
<text transform="translate(246.8 21.6)" font-size="9.9" font-weight="bold" fill="#000" stroke="#000" stroke-width="0.1" letter-spacing="-0.4">SuperOx wire</text>
<text transform="translate(246.8 34.3)" font-size="9.8" fill="#000" stroke="#000" stroke-width="0.42" letter-spacing="-0.37"><tspan font-style="italic">B</tspan> = 3 T</text>
<path d="M247 43.4H268.5M247 55.9H268.5" stroke="#111" stroke-width="1.1"/>
<circle cx="257.9" cy="43.4" r="2" fill="#000"/>
<rect x="256.6" y="54.5" width="2.8" height="2.8" fill="#fff" stroke="#222" stroke-width="0.8"/>
<text transform="translate(272.8 46.5)" font-size="9.8" fill="#000" stroke="#000" stroke-width="0.42" letter-spacing="-0.37"><tspan font-style="italic">T</tspan> = 25 K</text>
<text transform="translate(272.8 59.3)" font-size="9.8" fill="#000" stroke="#000" stroke-width="0.42" letter-spacing="-0.37"><tspan font-style="italic">T</tspan> = 50 K</text>
<rect x="33.5" y="167.5" width="108.5" height="25.5" fill="url(#cb)" stroke="#000" stroke-width="1.2"/>
<text transform="translate(34.00 160.9)" font-size="8.5" text-anchor="middle" fill="#000" stroke="#000" stroke-width="0.42" letter-spacing="-0.1">0</text>
<text transform="translate(60.90 160.9)" font-size="8.5" text-anchor="middle" fill="#000" stroke="#000" stroke-width="0.42" letter-spacing="-0.1">400</text>
<text transform="translate(87.80 160.9)" font-size="8.5" text-anchor="middle" fill="#000" stroke="#000" stroke-width="0.42" letter-spacing="-0.1">800</text>
<text transform="translate(114.70 160.9)" font-size="8.5" text-anchor="middle" fill="#000" stroke="#000" stroke-width="0.42" letter-spacing="-0.1">1200</text>
<text transform="translate(141.60 160.9)" font-size="8.5" text-anchor="middle" fill="#000" stroke="#000" stroke-width="0.42" letter-spacing="-0.1">1600</text>
<path d="M34.00 167v-2.6M60.90 167v-2.6M87.80 167v-2.6M114.70 167v-2.6M141.60 167v-2.6" stroke="#222" stroke-width="0.9"/>
<text transform="translate(75 140)" font-size="10.8" fill="#000" stroke="#000" stroke-width="0.42"><tspan font-style="italic">I</tspan><tspan font-size="6.8" dy="4.4">c</tspan><tspan dy="-4.4"> (A)</tspan></text>
<text transform="translate(59.80 402.7)" font-size="8.5" text-anchor="middle" fill="#000" stroke="#000" stroke-width="0.42" letter-spacing="-0.1">-40</text>
<text transform="translate(29.9 367.50)" font-size="8.5" text-anchor="end" fill="#000" stroke="#000" stroke-width="0.42" letter-spacing="-0.1">-40</text>
<text transform="translate(94.30 402.7)" font-size="8.5" text-anchor="middle" fill="#000" stroke="#000" stroke-width="0.42" letter-spacing="-0.1">-20</text>
<text transform="translate(29.9 333.00)" font-size="8.5" text-anchor="end" fill="#000" stroke="#000" stroke-width="0.42" letter-spacing="-0.1">-20</text>
<text transform="translate(130.00 402.7)" font-size="8.5" text-anchor="middle" fill="#000" stroke="#000" stroke-width="0.42" letter-spacing="-0.1">0</text>
<text transform="translate(29.9 298.50)" font-size="8.5" text-anchor="end" fill="#000" stroke="#000" stroke-width="0.42" letter-spacing="-0.1">0</text>
<text transform="translate(164.50 402.7)" font-size="8.5" text-anchor="middle" fill="#000" stroke="#000" stroke-width="0.42" letter-spacing="-0.1">20</text>
<text transform="translate(29.9 264.00)" font-size="8.5" text-anchor="end" fill="#000" stroke="#000" stroke-width="0.42" letter-spacing="-0.1">20</text>
<text transform="translate(199.00 402.7)" font-size="8.5" text-anchor="middle" fill="#000" stroke="#000" stroke-width="0.42" letter-spacing="-0.1">40</text>
<text transform="translate(29.9 229.50)" font-size="8.5" text-anchor="end" fill="#000" stroke="#000" stroke-width="0.42" letter-spacing="-0.1">40</text>
<path d="M61.00 391.8v-3M61.00 199.4v3M32.9 364.50h3M95.50 391.8v-3M95.50 199.4v3M32.9 330.00h3M130.00 391.8v-3M130.00 199.4v3M32.9 295.50h3M164.50 391.8v-3M164.50 199.4v3M32.9 261.00h3M199.00 391.8v-3M199.00 199.4v3M32.9 226.50h3" stroke="#ddd" stroke-width="0.9"/>
<text transform="translate(130.3 419.5) scale(0.97 1)" font-size="10.0" text-anchor="middle" fill="#000" stroke="#000" stroke-width="0.42"><tspan font-style="italic">T</tspan>·cos(<tspan dx="1.1" style="font-family:'Liberation Serif','DejaVu Serif',serif">θ</tspan><tspan dx="1.1">)</tspan> (K)</text>
<text transform="translate(7.9 295.4) rotate(-90)" font-size="10.0" text-anchor="middle" fill="#000" stroke="#000" stroke-width="0.42"><tspan font-style="italic">T</tspan>·sin(<tspan dx="1.1" style="font-family:'Liberation Serif','DejaVu Serif',serif">θ</tspan><tspan dx="1.1">)</tspan> (K)</text>
<g fill="none" stroke-width="1.35" stroke-linecap="round"><path d="M216.93 297.95L216.93 294.05" stroke="#126de3"/><path d="M216.94 294.95L216.81 291.04" stroke="#126de3"/><path d="M216.85 291.94L216.58 288.05" stroke="#126ce3"/><path d="M216.66 288.95L216.25 285.06" stroke="#126ce3"/><path d="M216.36 285.95L215.81 282.09" stroke="#126ce3"/><path d="M215.95 282.98L215.27 279.13" stroke="#126ce3"/><path d="M215.44 280.01L214.62 276.19" stroke="#126ce3"/><path d="M214.83 277.07L213.87 273.28" stroke="#126ce3"/><path d="M214.11 274.15L213.02 270.40" stroke="#126ce3"/><path d="M213.29 271.26L212.07 267.54" stroke="#126ce3"/><path d="M212.37 268.40L211.02 264.72" stroke="#126ce3"/><path d="M211.35 265.57L209.87 261.94" stroke="#126ce3"/><path d="M210.23 262.77L208.62 259.20" stroke="#126ce3"/><path d="M209.01 260.02L207.28 256.51" stroke="#126ce3"/><path d="M207.69 257.31L205.85 253.86" stroke="#126ce3"/><path d="M206.29 254.65L204.32 251.27" stroke="#126ce3"/><path d="M204.79 252.04L202.70 248.73" stroke="#126de3"/><path d="M203.19 249.49L200.99 246.25" stroke="#126de3"/><path d="M201.51 246.99L199.20 243.82" stroke="#126de3"/><path d="M199.74 244.54L197.32 241.47" stroke="#126de3"/><path d="M197.89 242.17L195.36 239.17" stroke="#126de3"/><path d="M195.96 239.85L193.32 236.95" stroke="#126ee3"/><path d="M193.94 237.61L191.20 234.80" stroke="#126fe3"/><path d="M191.85 235.44L189.01 232.72" stroke="#1271e3"/><path d="M189.68 233.34L186.75 230.72" stroke="#1271e3"/><path d="M187.44 231.32L184.42 228.80" stroke="#1273e3"/><path d="M185.13 229.37L182.02 226.97" stroke="#1275e3"/><path d="M182.75 227.51L179.56 225.21" stroke="#1276e3"/><path d="M180.31 225.73L177.04 223.55" stroke="#1278e3"/><path d="M177.81 224.04L174.47 221.97" stroke="#127ae3"/><path d="M175.24 222.43L171.83 220.48" stroke="#127ce3"/><path d="M172.63 220.91L169.15 219.08" stroke="#127fe3"/><path d="M169.96 219.49L166.42 217.78" stroke="#1282e3"/><path d="M167.24 218.16L163.65 216.57" stroke="#1285e3"/><path d="M164.48 216.92L160.83 215.46" stroke="#1288e3"/><path d="M161.68 215.78L157.98 214.45" stroke="#128be3"/><path d="M158.84 214.74L155.09 213.53" stroke="#128ee3"/><path d="M155.96 213.80L152.18 212.72" stroke="#1294e3"/><path d="M153.05 212.95L149.23 212.01" stroke="#1299e3"/><path d="M150.12 212.21L146.27 211.40" stroke="#129fe3"/><path d="M147.16 211.57L143.28 210.89" stroke="#12a4e3"/><path d="M144.18 211.03L140.28 210.49" stroke="#12abe3"/><path d="M141.18 210.60L137.26 210.19" stroke="#12b3e3"/><path d="M138.17 210.27L134.24 210.00" stroke="#12bfe3"/><path d="M135.15 210.04L131.21 209.91" stroke="#12e3da"/><path d="M132.12 209.92L128.18 209.92" stroke="#12e3b2"/><path d="M129.09 209.91L125.15 210.04" stroke="#12e3da"/><path d="M126.06 210.00L122.13 210.27" stroke="#12bfe3"/><path d="M123.04 210.19L119.12 210.60" stroke="#12b3e3"/><path d="M120.02 210.49L116.12 211.03" stroke="#12abe3"/><path d="M117.02 210.89L113.14 211.57" stroke="#12a4e3"/><path d="M114.03 211.40L110.18 212.21" stroke="#129fe3"/><path d="M111.07 212.01L107.25 212.95" stroke="#1299e3"/><path d="M108.12 212.72L104.34 213.80" stroke="#1294e3"/><path d="M105.21 213.53L101.46 214.74" stroke="#128ee3"/><path d="M102.32 214.45L98.62 215.78" stroke="#128be3"/><path d="M99.47 215.46L95.82 216.92" stroke="#1288e3"/><path d="M96.65 216.57L93.06 218.16" stroke="#1285e3"/><path d="M93.88 217.78L90.34 219.49" stroke="#1282e3"/><path d="M91.15 219.08L87.67 220.91" stroke="#127fe3"/><path d="M88.47 220.48L85.06 222.43" stroke="#127ce3"/><path d="M85.83 221.97L82.49 224.04" stroke="#127ae3"/><path d="M83.26 223.55L79.99 225.73" stroke="#1278e3"/><path d="M80.74 225.21L77.55 227.51" stroke="#1276e3"/><path d="M78.28 226.97L75.17 229.37" stroke="#1275e3"/><path d="M75.88 228.80L72.86 231.32" stroke="#1273e3"/><path d="M73.55 230.72L70.62 233.34" stroke="#1271e3"/><path d="M71.29 232.72L68.45 235.44" stroke="#1271e3"/><path d="M69.10 234.80L66.36 237.61" stroke="#126fe3"/><path d="M66.98 236.95L64.34 239.85" stroke="#126ee3"/><path d="M64.94 239.17L62.41 242.17" stroke="#126de3"/><path d="M62.98 241.47L60.56 244.54" stroke="#126de3"/><path d="M61.10 243.82L58.79 246.99" stroke="#126de3"/><path d="M59.31 246.25L57.11 249.49" stroke="#126de3"/><path d="M57.60 248.73L55.51 252.04" stroke="#126de3"/><path d="M55.98 251.27L54.01 254.65" stroke="#126ce3"/><path d="M54.45 253.86L52.61 257.31" stroke="#126ce3"/><path d="M53.02 256.51L51.29 260.02" stroke="#126ce3"/><path d="M51.68 259.20L50.07 262.77" stroke="#126ce3"/><path d="M50.43 261.94L48.95 265.57" stroke="#126ce3"/><path d="M49.28 264.72L47.93 268.40" stroke="#126ce3"/><path d="M48.23 267.54L47.01 271.26" stroke="#126ce3"/><path d="M47.28 270.40L46.19 274.15" stroke="#126ce3"/><path d="M46.43 273.28L45.47 277.07" stroke="#126ce3"/><path d="M45.68 276.19L44.86 280.01" stroke="#126ce3"/><path d="M45.03 279.13L44.35 282.98" stroke="#126ce3"/><path d="M44.49 282.09L43.94 285.95" stroke="#126ce3"/><path d="M44.05 285.06L43.64 288.95" stroke="#126ce3"/><path d="M43.72 288.05L43.45 291.94" stroke="#126ce3"/><path d="M43.49 291.04L43.36 294.95" stroke="#126de3"/><path d="M43.37 294.05L43.37 297.95" stroke="#126de3"/><path d="M43.36 297.05L43.49 300.96" stroke="#126de3"/><path d="M43.45 300.06L43.72 303.95" stroke="#126ce3"/><path d="M43.64 303.05L44.05 306.94" stroke="#126ce3"/><path d="M43.94 306.05L44.49 309.91" stroke="#126ce3"/><path d="M44.35 309.02L45.03 312.87" stroke="#126ce3"/><path d="M44.86 311.99L45.68 315.81" stroke="#126ce3"/><path d="M45.47 314.93L46.43 318.72" stroke="#126ce3"/><path d="M46.19 317.85L47.28 321.60" stroke="#126ce3"/><path d="M47.01 320.74L48.23 324.46" stroke="#126ce3"/><path d="M47.93 323.60L49.28 327.28" stroke="#126ce3"/><path d="M48.95 326.43L50.43 330.06" stroke="#126ce3"/><path d="M50.07 329.23L51.68 332.80" stroke="#126ce3"/><path d="M51.29 331.98L53.02 335.49" stroke="#126ce3"/><path d="M52.61 334.69L54.45 338.14" stroke="#126ce3"/><path d="M54.01 337.35L55.98 340.73" stroke="#126ce3"/><path d="M55.51 339.96L57.60 343.27" stroke="#126de3"/><path d="M57.11 342.51L59.31 345.75" stroke="#126de3"/><path d="M58.79 345.01L61.10 348.18" stroke="#126de3"/><path d="M60.56 347.46L62.98 350.53" stroke="#126de3"/><path d="M62.41 349.83L64.94 352.83" stroke="#126de3"/><path d="M64.34 352.15L66.98 355.05" stroke="#126ee3"/><path d="M66.36 354.39L69.10 357.20" stroke="#126fe3"/><path d="M68.45 356.56L71.29 359.28" stroke="#1271e3"/><path d="M70.62 358.66L73.55 361.28" stroke="#1271e3"/><path d="M72.86 360.68L75.88 363.20" stroke="#1273e3"/><path d="M75.17 362.63L78.28 365.03" stroke="#1275e3"/><path d="M77.55 364.49L80.74 366.79" stroke="#1276e3"/><path d="M79.99 366.27L83.26 368.45" stroke="#1278e3"/><path d="M82.49 367.96L85.83 370.03" stroke="#127ae3"/><path d="M85.06 369.57L88.47 371.52" stroke="#127ce3"/><path d="M87.67 371.09L91.15 372.92" stroke="#127fe3"/><path d="M90.34 372.51L93.88 374.22" stroke="#1282e3"/><path d="M93.06 373.84L96.65 375.43" stroke="#1285e3"/><path d="M95.82 375.08L99.47 376.54" stroke="#1288e3"/><path d="M98.62 376.22L102.32 377.55" stroke="#128be3"/><path d="M101.46 377.26L105.21 378.47" stroke="#128ee3"/><path d="M104.34 378.20L108.12 379.28" stroke="#1294e3"/><path d="M107.25 379.05L111.07 379.99" stroke="#1299e3"/><path d="M110.18 379.79L114.03 380.60" stroke="#129fe3"/><path d="M113.14 380.43L117.02 381.11" stroke="#12a4e3"/><path d="M116.12 380.97L120.02 381.51" stroke="#12abe3"/><path d="M119.12 381.40L123.04 381.81" stroke="#12b3e3"/><path d="M122.13 381.73L126.06 382.00" stroke="#12bfe3"/><path d="M125.15 381.96L129.09 382.09" stroke="#12e3da"/><path d="M128.18 382.08L132.12 382.08" stroke="#12e3b2"/><path d="M131.21 382.09L135.15 381.96" stroke="#12e3da"/><path d="M134.24 382.00L138.17 381.73" stroke="#12bfe3"/><path d="M137.26 381.81L141.18 381.40" stroke="#12b3e3"/><path d="M140.28 381.51L144.18 380.97" stroke="#12abe3"/><path d="M143.28 381.11L147.16 380.43" stroke="#12a4e3"/><path d="M146.27 380.60L150.12 379.79" stroke="#129fe3"/><path d="M149.23 379.99L153.05 379.05" stroke="#1299e3"/><path d="M152.18 379.28L155.96 378.20" stroke="#1294e3"/><path d="M155.09 378.47L158.84 377.26" stroke="#128ee3"/><path d="M157.98 377.55L161.68 376.22" stroke="#128be3"/><path d="M160.83 376.54L164.48 375.08" stroke="#1288e3"/><path d="M163.65 375.43L167.24 373.84" stroke="#1285e3"/><path d="M166.42 374.22L169.96 372.51" stroke="#1282e3"/><path d="M169.15 372.92L172.63 371.09" stroke="#127fe3"/><path d="M171.83 371.52L175.24 369.57" stroke="#127ce3"/><path d="M174.47 370.03L177.81 367.96" stroke="#127ae3"/><path d="M177.04 368.45L180.31 366.27" stroke="#1278e3"/><path d="M179.56 366.79L182.75 364.49" stroke="#1276e3"/><path d="M182.02 365.03L185.13 362.63" stroke="#1275e3"/><path d="M184.42 363.20L187.44 360.68" stroke="#1273e3"/><path d="M186.75 361.28L189.68 358.66" stroke="#1271e3"/><path d="M189.01 359.28L191.85 356.56" stroke="#1271e3"/><path d="M191.20 357.20L193.94 354.39" stroke="#126fe3"/><path d="M193.32 355.05L195.96 352.15" stroke="#126ee3"/><path d="M195.36 352.83L197.89 349.83" stroke="#126de3"/><path d="M197.32 350.53L199.74 347.46" stroke="#126de3"/><path d="M199.20 348.18L201.51 345.01" stroke="#126de3"/><path d="M200.99 345.75L203.19 342.51" stroke="#126de3"/><path d="M202.70 343.27L204.79 339.96" stroke="#126de3"/><path d="M204.32 340.73L206.29 337.35" stroke="#126ce3"/><path d="M205.85 338.14L207.69 334.69" stroke="#126ce3"/><path d="M207.28 335.49L209.01 331.98" stroke="#126ce3"/><path d="M208.62 332.80L210.23 329.23" stroke="#126ce3"/><path d="M209.87 330.06L211.35 326.43" stroke="#126ce3"/><path d="M211.02 327.28L212.37 323.60" stroke="#126ce3"/><path d="M212.07 324.46L213.29 320.74" stroke="#126ce3"/><path d="M213.02 321.60L214.11 317.85" stroke="#126ce3"/><path d="M213.87 318.72L214.83 314.93" stroke="#126ce3"/><path d="M214.62 315.81L215.44 311.99" stroke="#126ce3"/><path d="M215.27 312.87L215.95 309.02" stroke="#126ce3"/><path d="M215.81 309.91L216.36 306.05" stroke="#126ce3"/><path d="M216.25 306.94L216.66 303.05" stroke="#126ce3"/><path d="M216.58 303.95L216.85 300.06" stroke="#126ce3"/><path d="M216.81 300.96L216.94 297.05" stroke="#126de3"/></g>
<g fill="none" stroke-width="1.25" stroke-linecap="round"><path d="M173.59 296.78L173.59 294.82" stroke="#12e3d2"/><path d="M173.60 295.27L173.53 293.32" stroke="#12e3d3"/><path d="M173.55 293.77L173.41 291.83" stroke="#12e3d4"/><path d="M173.45 292.28L173.25 290.34" stroke="#12e3d5"/><path d="M173.30 290.78L173.03 288.85" stroke="#12e3d5"/><path d="M173.10 289.30L172.76 287.37" stroke="#12e3d5"/><path d="M172.84 287.82L172.43 285.91" stroke="#12e3d5"/><path d="M172.54 286.35L172.06 284.45" stroke="#12e3d6"/><path d="M172.18 284.89L171.63 283.01" stroke="#12e3d6"/><path d="M171.77 283.44L171.16 281.59" stroke="#12e3d6"/><path d="M171.30 282.01L170.63 280.18" stroke="#12e3d5"/><path d="M170.79 280.60L170.05 278.79" stroke="#12e3d5"/><path d="M170.23 279.21L169.43 277.42" stroke="#12e3d5"/><path d="M169.62 277.83L168.75 276.08" stroke="#12e3d4"/><path d="M168.96 276.48L168.04 274.76" stroke="#12e3d3"/><path d="M168.26 275.15L167.27 273.46" stroke="#12e3d1"/><path d="M167.50 273.85L166.46 272.19" stroke="#12e3d0"/><path d="M166.71 272.57L165.60 270.95" stroke="#12e3cd"/><path d="M165.86 271.32L164.70 269.74" stroke="#12e3cb"/><path d="M164.98 270.10L163.76 268.56" stroke="#12e3c8"/><path d="M164.05 268.91L162.78 267.42" stroke="#12e3c5"/><path d="M163.08 267.76L161.76 266.31" stroke="#12e3c1"/><path d="M162.07 266.64L160.70 265.24" stroke="#12e3bc"/><path d="M161.02 265.55L159.60 264.20" stroke="#12e3b7"/><path d="M159.93 264.51L158.47 263.20" stroke="#12e3b1"/><path d="M158.81 263.50L157.30 262.24" stroke="#12e3ac"/><path d="M157.65 262.52L156.10 261.32" stroke="#12e3a6"/><path d="M156.46 261.59L154.86 260.45" stroke="#12e39f"/><path d="M155.24 260.71L153.60 259.62" stroke="#12e399"/><path d="M153.98 259.86L152.31 258.83" stroke="#12e391"/><path d="M152.70 259.06L150.99 258.08" stroke="#12e38a"/><path d="M151.39 258.30L149.65 257.39" stroke="#12e383"/><path d="M150.05 257.59L148.28 256.73" stroke="#12e37c"/><path d="M148.69 256.92L146.89 256.13" stroke="#12e373"/><path d="M147.31 256.31L145.48 255.58" stroke="#12e368"/><path d="M145.90 255.74L144.05 255.07" stroke="#12e359"/><path d="M144.48 255.22L142.60 254.61" stroke="#12e348"/><path d="M143.04 254.75L141.14 254.21" stroke="#12e332"/><path d="M141.58 254.32L139.66 253.85" stroke="#12e319"/><path d="M140.11 253.95L138.18 253.55" stroke="#2ce312"/><path d="M138.62 253.63L136.68 253.29" stroke="#5ae312"/><path d="M137.13 253.37L135.18 253.09" stroke="#8be312"/><path d="M135.63 253.15L133.66 252.94" stroke="#c8e312"/><path d="M134.12 252.98L132.15 252.85" stroke="#e3c012"/><path d="M132.60 252.87L130.63 252.80" stroke="#e38612"/><path d="M131.09 252.81L129.11 252.81" stroke="#e34d12"/><path d="M129.57 252.80L127.60 252.87" stroke="#e38612"/><path d="M128.05 252.85L126.08 252.98" stroke="#e3c012"/><path d="M126.54 252.94L124.57 253.15" stroke="#c8e312"/><path d="M125.02 253.09L123.07 253.37" stroke="#8be312"/><path d="M123.52 253.29L121.58 253.63" stroke="#5ae312"/><path d="M122.02 253.55L120.09 253.95" stroke="#2ce312"/><path d="M120.54 253.85L118.62 254.32" stroke="#12e319"/><path d="M119.06 254.21L117.16 254.75" stroke="#12e332"/><path d="M117.60 254.61L115.72 255.22" stroke="#12e348"/><path d="M116.15 255.07L114.30 255.74" stroke="#12e359"/><path d="M114.72 255.58L112.89 256.31" stroke="#12e368"/><path d="M113.31 256.13L111.51 256.92" stroke="#12e373"/><path d="M111.92 256.73L110.15 257.59" stroke="#12e37c"/><path d="M110.55 257.39L108.81 258.30" stroke="#12e383"/><path d="M109.21 258.08L107.50 259.06" stroke="#12e38a"/><path d="M107.89 258.83L106.22 259.86" stroke="#12e391"/><path d="M106.60 259.62L104.96 260.71" stroke="#12e399"/><path d="M105.34 260.45L103.74 261.59" stroke="#12e39f"/><path d="M104.10 261.32L102.55 262.52" stroke="#12e3a6"/><path d="M102.90 262.24L101.39 263.50" stroke="#12e3ac"/><path d="M101.73 263.20L100.27 264.51" stroke="#12e3b1"/><path d="M100.60 264.20L99.18 265.55" stroke="#12e3b7"/><path d="M99.50 265.24L98.13 266.64" stroke="#12e3bc"/><path d="M98.44 266.31L97.12 267.76" stroke="#12e3c1"/><path d="M97.42 267.42L96.15 268.91" stroke="#12e3c5"/><path d="M96.44 268.56L95.22 270.10" stroke="#12e3c8"/><path d="M95.50 269.74L94.34 271.32" stroke="#12e3cb"/><path d="M94.60 270.95L93.49 272.57" stroke="#12e3cd"/><path d="M93.74 272.19L92.70 273.85" stroke="#12e3d0"/><path d="M92.93 273.46L91.94 275.15" stroke="#12e3d1"/><path d="M92.16 274.76L91.24 276.48" stroke="#12e3d3"/><path d="M91.45 276.08L90.58 277.83" stroke="#12e3d4"/><path d="M90.77 277.42L89.97 279.21" stroke="#12e3d5"/><path d="M90.15 278.79L89.41 280.60" stroke="#12e3d5"/><path d="M89.57 280.18L88.90 282.01" stroke="#12e3d5"/><path d="M89.04 281.59L88.43 283.44" stroke="#12e3d6"/><path d="M88.57 283.01L88.02 284.89" stroke="#12e3d6"/><path d="M88.14 284.45L87.66 286.35" stroke="#12e3d6"/><path d="M87.77 285.91L87.36 287.82" stroke="#12e3d5"/><path d="M87.44 287.37L87.10 289.30" stroke="#12e3d5"/><path d="M87.17 288.85L86.90 290.78" stroke="#12e3d5"/><path d="M86.95 290.34L86.75 292.28" stroke="#12e3d5"/><path d="M86.79 291.83L86.65 293.77" stroke="#12e3d4"/><path d="M86.67 293.32L86.60 295.27" stroke="#12e3d3"/><path d="M86.61 294.82L86.61 296.78" stroke="#12e3d2"/><path d="M86.60 296.33L86.67 298.28" stroke="#12e3d3"/><path d="M86.65 297.83L86.79 299.77" stroke="#12e3d4"/><path d="M86.75 299.32L86.95 301.26" stroke="#12e3d5"/><path d="M86.90 300.82L87.17 302.75" stroke="#12e3d5"/><path d="M87.10 302.30L87.44 304.23" stroke="#12e3d5"/><path d="M87.36 303.78L87.77 305.69" stroke="#12e3d5"/><path d="M87.66 305.25L88.14 307.15" stroke="#12e3d6"/><path d="M88.02 306.71L88.57 308.59" stroke="#12e3d6"/><path d="M88.43 308.16L89.04 310.01" stroke="#12e3d6"/><path d="M88.90 309.59L89.57 311.42" stroke="#12e3d5"/><path d="M89.41 311.00L90.15 312.81" stroke="#12e3d5"/><path d="M89.97 312.39L90.77 314.18" stroke="#12e3d5"/><path d="M90.58 313.77L91.45 315.52" stroke="#12e3d4"/><path d="M91.24 315.12L92.16 316.84" stroke="#12e3d3"/><path d="M91.94 316.45L92.93 318.14" stroke="#12e3d1"/><path d="M92.70 317.75L93.74 319.41" stroke="#12e3d0"/><path d="M93.49 319.03L94.60 320.65" stroke="#12e3cd"/><path d="M94.34 320.28L95.50 321.86" stroke="#12e3cb"/><path d="M95.22 321.50L96.44 323.04" stroke="#12e3c8"/><path d="M96.15 322.69L97.42 324.18" stroke="#12e3c5"/><path d="M97.12 323.84L98.44 325.29" stroke="#12e3c1"/><path d="M98.13 324.96L99.50 326.36" stroke="#12e3bc"/><path d="M99.18 326.05L100.60 327.40" stroke="#12e3b7"/><path d="M100.27 327.09L101.73 328.40" stroke="#12e3b1"/><path d="M101.39 328.10L102.90 329.36" stroke="#12e3ac"/><path d="M102.55 329.08L104.10 330.28" stroke="#12e3a6"/><path d="M103.74 330.01L105.34 331.15" stroke="#12e39f"/><path d="M104.96 330.89L106.60 331.98" stroke="#12e399"/><path d="M106.22 331.74L107.89 332.77" stroke="#12e391"/><path d="M107.50 332.54L109.21 333.52" stroke="#12e38a"/><path d="M108.81 333.30L110.55 334.21" stroke="#12e383"/><path d="M110.15 334.01L111.92 334.87" stroke="#12e37c"/><path d="M111.51 334.68L113.31 335.47" stroke="#12e373"/><path d="M112.89 335.29L114.72 336.02" stroke="#12e368"/><path d="M114.30 335.86L116.15 336.53" stroke="#12e359"/><path d="M115.72 336.38L117.60 336.99" stroke="#12e348"/><path d="M117.16 336.85L119.06 337.39" stroke="#12e332"/><path d="M118.62 337.28L120.54 337.75" stroke="#12e319"/><path d="M120.09 337.65L122.02 338.05" stroke="#2ce312"/><path d="M121.58 337.97L123.52 338.31" stroke="#5ae312"/><path d="M123.07 338.23L125.02 338.51" stroke="#8be312"/><path d="M124.57 338.45L126.54 338.66" stroke="#c8e312"/><path d="M126.08 338.62L128.05 338.75" stroke="#e3c012"/><path d="M127.60 338.73L129.57 338.80" stroke="#e38612"/><path d="M129.11 338.79L131.09 338.79" stroke="#e34d12"/><path d="M130.63 338.80L132.60 338.73" stroke="#e38612"/><path d="M132.15 338.75L134.12 338.62" stroke="#e3c012"/><path d="M133.66 338.66L135.63 338.45" stroke="#c8e312"/><path d="M135.18 338.51L137.13 338.23" stroke="#8be312"/><path d="M136.68 338.31L138.62 337.97" stroke="#5ae312"/><path d="M138.18 338.05L140.11 337.65" stroke="#2ce312"/><path d="M139.66 337.75L141.58 337.28" stroke="#12e319"/><path d="M141.14 337.39L143.04 336.85" stroke="#12e332"/><path d="M142.60 336.99L144.48 336.38" stroke="#12e348"/><path d="M144.05 336.53L145.90 335.86" stroke="#12e359"/><path d="M145.48 336.02L147.31 335.29" stroke="#12e368"/><path d="M146.89 335.47L148.69 334.68" stroke="#12e373"/><path d="M148.28 334.87L150.05 334.01" stroke="#12e37c"/><path d="M149.65 334.21L151.39 333.30" stroke="#12e383"/><path d="M150.99 333.52L152.70 332.54" stroke="#12e38a"/><path d="M152.31 332.77L153.98 331.74" stroke="#12e391"/><path d="M153.60 331.98L155.24 330.89" stroke="#12e399"/><path d="M154.86 331.15L156.46 330.01" stroke="#12e39f"/><path d="M156.10 330.28L157.65 329.08" stroke="#12e3a6"/><path d="M157.30 329.36L158.81 328.10" stroke="#12e3ac"/><path d="M158.47 328.40L159.93 327.09" stroke="#12e3b1"/><path d="M159.60 327.40L161.02 326.05" stroke="#12e3b7"/><path d="M160.70 326.36L162.07 324.96" stroke="#12e3bc"/><path d="M161.76 325.29L163.08 323.84" stroke="#12e3c1"/><path d="M162.78 324.18L164.05 322.69" stroke="#12e3c5"/><path d="M163.76 323.04L164.98 321.50" stroke="#12e3c8"/><path d="M164.70 321.86L165.86 320.28" stroke="#12e3cb"/><path d="M165.60 320.65L166.71 319.03" stroke="#12e3cd"/><path d="M166.46 319.41L167.50 317.75" stroke="#12e3d0"/><path d="M167.27 318.14L168.26 316.45" stroke="#12e3d1"/><path d="M168.04 316.84L168.96 315.12" stroke="#12e3d3"/><path d="M168.75 315.52L169.62 313.77" stroke="#12e3d4"/><path d="M169.43 314.18L170.23 312.39" stroke="#12e3d5"/><path d="M170.05 312.81L170.79 311.00" stroke="#12e3d5"/><path d="M170.63 311.42L171.30 309.59" stroke="#12e3d5"/><path d="M171.16 310.01L171.77 308.16" stroke="#12e3d6"/><path d="M171.63 308.59L172.18 306.71" stroke="#12e3d6"/><path d="M172.06 307.15L172.54 305.25" stroke="#12e3d6"/><path d="M172.43 305.69L172.84 303.78" stroke="#12e3d5"/><path d="M172.76 304.23L173.10 302.30" stroke="#12e3d5"/><path d="M173.03 302.75L173.30 300.82" stroke="#12e3d5"/><path d="M173.25 301.26L173.45 299.32" stroke="#12e3d5"/><path d="M173.41 299.77L173.55 297.83" stroke="#12e3d4"/><path d="M173.53 298.28L173.60 296.33" stroke="#12e3d3"/></g>
<path d="M130.0 295.5H163.5" stroke="#999" stroke-width="0.9"/>
<path d="M147.00 295.7A17.0 15.5 0 1 0 139.75 308.40" stroke="#fff" stroke-width="1.2" fill="none"/>
<path d="M130.00 295.50L101.59 269.57" stroke="#fff" stroke-width="1.5" fill="none"/><path d="M97.90 266.20L103.88 268.55L100.78 271.94Z" fill="#fff"/>
<path d="M130.00 295.50L177.48 361.54" stroke="#fff" stroke-width="1.5" fill="none"/><path d="M180.40 365.60L175.03 362.07L178.76 359.39Z" fill="#fff"/>
<text transform="translate(104.2 310.6)" font-size="15" fill="#fff" style="font-family:'Liberation Serif','DejaVu Serif',serif">θ</text>
<text transform="translate(169.8 343.5)" font-size="15" fill="#fff" style="font-family:'Liberation Serif','DejaVu Serif',serif">ρ</text>
<text transform="translate(42.3 223.5)" font-size="11.5" font-weight="bold" fill="#fff" stroke="#fff" stroke-width="0.15">b</text>
<text transform="translate(206.3 221.8)" font-size="14.5" font-weight="bold" fill="#fff" stroke="#fff" stroke-width="0.15" font-style="italic">I<tspan font-size="9" dy="5" font-style="normal">c</tspan></text>
<text transform="translate(39.3 382.3)" font-size="10.5" font-weight="bold" fill="#fff" stroke="#fff" stroke-width="0.15"><tspan font-style="italic">B</tspan> = 3 T</text>
<text transform="translate(43.6 269.4)" font-size="8.35" font-weight="bold" fill="#fff" stroke="#fff" stroke-width="0.15"><tspan font-style="italic">I</tspan><tspan font-size="6.5" dy="2.2">c</tspan><tspan dy="-2.2">(25K,136°)</tspan></text>
<text transform="translate(174.8 377.4)" font-size="8.35" font-weight="bold" fill="#fff" stroke="#fff" stroke-width="0.15"><tspan font-style="italic">I</tspan><tspan font-size="6.5" dy="2.2">c</tspan><tspan dy="-2.2">(50K,296°)</tspan></text>
<text transform="translate(327.80 401.3)" font-size="8.5" text-anchor="middle" fill="#000" stroke="#000" stroke-width="0.42" letter-spacing="-0.1">-1600</text>
<text transform="translate(320.3 388.90)" font-size="8.5" text-anchor="end" fill="#000" stroke="#000" stroke-width="0.42" letter-spacing="-0.1">-1600</text>
<text transform="translate(373.40 401.3)" font-size="8.5" text-anchor="middle" fill="#000" stroke="#000" stroke-width="0.42" letter-spacing="-0.1">-800</text>
<text transform="translate(320.3 343.70)" font-size="8.5" text-anchor="end" fill="#000" stroke="#000" stroke-width="0.42" letter-spacing="-0.1">-800</text>
<text transform="translate(420.20 401.3)" font-size="8.5" text-anchor="middle" fill="#000" stroke="#000" stroke-width="0.42" letter-spacing="-0.1">0</text>
<text transform="translate(320.3 298.50)" font-size="8.5" text-anchor="end" fill="#000" stroke="#000" stroke-width="0.42" letter-spacing="-0.1">0</text>
<text transform="translate(465.80 401.3)" font-size="8.5" text-anchor="middle" fill="#000" stroke="#000" stroke-width="0.42" letter-spacing="-0.1">800</text>
<text transform="translate(320.3 253.30)" font-size="8.5" text-anchor="end" fill="#000" stroke="#000" stroke-width="0.42" letter-spacing="-0.1">800</text>
<text transform="translate(511.40 401.3)" font-size="8.5" text-anchor="middle" fill="#000" stroke="#000" stroke-width="0.42" letter-spacing="-0.1">1600</text>
<text transform="translate(320.3 208.10)" font-size="8.5" text-anchor="end" fill="#000" stroke="#000" stroke-width="0.42" letter-spacing="-0.1">1600</text>
<path d="M329.00 390.1v-2.6M329.00 201.1v2.6M323.6 385.90h2.6M517.2 385.90h-2.6M374.60 390.1v-2.6M374.60 201.1v2.6M323.6 340.70h2.6M517.2 340.70h-2.6M420.20 390.1v-2.6M420.20 201.1v2.6M323.6 295.50h2.6M517.2 295.50h-2.6M465.80 390.1v-2.6M465.80 201.1v2.6M323.6 250.30h2.6M517.2 250.30h-2.6M511.40 390.1v-2.6M511.40 201.1v2.6M323.6 205.10h2.6M517.2 205.10h-2.6" stroke="#ddd" stroke-width="0.9"/>
<polygon points="447.22,295.50 447.17,295.03 447.12,294.57 447.06,294.10 446.99,293.64 446.91,293.18 446.83,292.73 446.73,292.27 446.64,291.82 446.53,291.37 446.42,290.92 446.30,290.47 446.17,290.03 446.04,289.59 445.89,289.15 445.75,288.71 445.59,288.28 445.43,287.86 445.25,287.43 445.07,287.01 444.88,286.60 444.69,286.18 444.48,285.78 444.28,285.37 444.06,284.97 443.85,284.57 443.63,284.18 443.40,283.78 443.17,283.39 442.94,283.00 442.71,282.62 442.48,282.23 442.25,281.84 442.02,281.46 441.79,281.07 441.56,280.67 441.33,280.28 441.10,279.89 440.86,279.50 440.62,279.11 440.37,278.72 440.13,278.33 439.89,277.92 439.67,277.51 439.44,277.08 439.22,276.65 439.00,276.20 438.78,275.75 438.55,275.30 438.32,274.84 438.09,274.37 437.87,273.87 437.67,273.34 437.46,272.79 437.25,272.23 437.04,271.66 436.82,271.08 436.60,270.48 436.37,269.85 436.14,269.21 435.89,268.57 435.63,267.92 435.35,267.26 435.06,266.58 434.77,265.90 434.46,265.19 434.14,264.47 433.80,263.75 433.45,263.00 433.08,262.23 432.72,261.40 432.36,260.51 431.99,259.52 431.63,258.43 431.27,257.24 430.89,255.95 430.49,254.59 430.07,253.14 429.62,251.57 429.16,249.83 428.67,247.88 428.16,245.67 427.64,243.00 427.10,239.83 426.49,236.22 425.83,231.77 425.03,227.01 424.08,222.15 422.93,217.89 421.63,214.12 420.20,210.75 418.77,214.12 417.47,217.89 416.32,222.15 415.37,227.01 414.57,231.77 413.91,236.22 413.30,239.83 412.76,243.00 412.24,245.67 411.73,247.88 411.24,249.83 410.78,251.57 410.33,253.14 409.91,254.59 409.51,255.95 409.13,257.24 408.77,258.43 408.41,259.52 408.04,260.51 407.68,261.40 407.32,262.23 406.95,263.00 406.60,263.75 406.26,264.47 405.94,265.19 405.63,265.90 405.34,266.58 405.05,267.26 404.77,267.92 404.51,268.57 404.26,269.21 404.03,269.85 403.80,270.48 403.58,271.08 403.36,271.66 403.15,272.23 402.94,272.79 402.73,273.34 402.53,273.87 402.31,274.37 402.08,274.84 401.85,275.30 401.62,275.75 401.40,276.20 401.18,276.65 400.96,277.08 400.73,277.51 400.51,277.92 400.27,278.33 400.03,278.72 399.78,279.11 399.54,279.50 399.30,279.89 399.07,280.28 398.84,280.67 398.61,281.07 398.38,281.46 398.15,281.84 397.92,282.23 397.69,282.62 397.46,283.00 397.23,283.39 397.00,283.78 396.77,284.18 396.55,284.57 396.34,284.97 396.12,285.37 395.92,285.78 395.71,286.18 395.52,286.60 395.33,287.01 395.15,287.43 394.97,287.86 394.81,288.28 394.65,288.71 394.51,289.15 394.36,289.59 394.23,290.03 394.10,290.47 393.98,290.92 393.87,291.37 393.76,291.82 393.67,292.27 393.57,292.73 393.49,293.18 393.41,293.64 393.34,294.10 393.28,294.57 393.23,295.03 393.18,295.50 393.23,295.97 393.28,296.43 393.34,296.90 393.41,297.36 393.49,297.82 393.57,298.27 393.67,298.73 393.76,299.18 393.87,299.63 393.98,300.08 394.10,300.53 394.23,300.97 394.36,301.41 394.51,301.85 394.65,302.29 394.81,302.72 394.97,303.14 395.15,303.57 395.33,303.99 395.52,304.40 395.71,304.82 395.92,305.22 396.12,305.63 396.34,306.03 396.55,306.43 396.77,306.82 397.00,307.22 397.23,307.61 397.46,308.00 397.69,308.38 397.92,308.77 398.15,309.16 398.38,309.54 398.61,309.93 398.84,310.33 399.07,310.72 399.30,311.11 399.54,311.50 399.78,311.89 400.03,312.28 400.27,312.67 400.51,313.08 400.73,313.49 400.96,313.92 401.18,314.35 401.40,314.80 401.62,315.25 401.85,315.70 402.08,316.16 402.31,316.63 402.53,317.13 402.73,317.66 402.94,318.21 403.15,318.77 403.36,319.34 403.58,319.92 403.80,320.52 404.03,321.15 404.26,321.79 404.51,322.43 404.77,323.08 405.05,323.74 405.34,324.42 405.63,325.10 405.94,325.81 406.26,326.53 406.60,327.25 406.95,328.00 407.32,328.77 407.68,329.60 408.04,330.49 408.41,331.48 408.77,332.57 409.13,333.76 409.51,335.05 409.91,336.41 410.33,337.86 410.78,339.43 411.24,341.17 411.73,343.12 412.24,345.33 412.76,348.00 413.30,351.17 413.91,354.78 414.57,359.23 415.37,363.99 416.32,368.85 417.47,373.11 418.77,376.88 420.20,380.25 421.63,376.88 422.93,373.11 424.08,368.85 425.03,363.99 425.83,359.23 426.49,354.78 427.10,351.17 427.64,348.00 428.16,345.33 428.67,343.12 429.16,341.17 429.62,339.43 430.07,337.86 430.49,336.41 430.89,335.05 431.27,333.76 431.63,332.57 431.99,331.48 432.36,330.49 432.72,329.60 433.08,328.77 433.45,328.00 433.80,327.25 434.14,326.53 434.46,325.81 434.77,325.10 435.06,324.42 435.35,323.74 435.63,323.08 435.89,322.43 436.14,321.79 436.37,321.15 436.60,320.52 436.82,319.92 437.04,319.34 437.25,318.77 437.46,318.21 437.67,317.66 437.87,317.13 438.09,316.63 438.32,316.16 438.55,315.70 438.78,315.25 439.00,314.80 439.22,314.35 439.44,313.92 439.67,313.49 439.89,313.08 440.13,312.67 440.37,312.28 440.62,311.89 440.86,311.50 441.10,311.11 441.33,310.72 441.56,310.33 441.79,309.93 442.02,309.54 442.25,309.16 442.48,308.77 442.71,308.38 442.94,308.00 443.17,307.61 443.40,307.22 443.63,306.82 443.85,306.43 444.06,306.03 444.28,305.63 444.48,305.22 444.69,304.82 444.88,304.40 445.07,303.99 445.25,303.57 445.43,303.14 445.59,302.72 445.75,302.29 445.89,301.85 446.04,301.41 446.17,300.97 446.30,300.53 446.42,300.08 446.53,299.63 446.64,299.18 446.73,298.73 446.83,298.27 446.91,297.82 446.99,297.36 447.06,296.90 447.12,296.43 447.17,295.97 447.22,295.50" fill="none" stroke="#1616e6" stroke-width="2.1" stroke-linejoin="round"/>
<polygon points="431.54,295.50 431.51,295.30 431.48,295.11 431.44,294.92 431.40,294.72 431.36,294.53 431.31,294.34 431.26,294.15 431.22,293.97 431.16,293.78 431.11,293.59 431.06,293.41 431.00,293.22 430.94,293.04 430.89,292.86 430.83,292.68 430.76,292.50 430.70,292.32 430.63,292.14 430.56,291.96 430.49,291.79 430.41,291.61 430.34,291.44 430.26,291.27 430.17,291.10 430.09,290.93 430.00,290.76 429.91,290.60 429.82,290.43 429.73,290.27 429.63,290.10 429.53,289.94 429.43,289.78 429.34,289.62 429.25,289.45 429.16,289.28 429.07,289.11 428.98,288.94 428.89,288.77 428.80,288.59 428.71,288.42 428.62,288.24 428.53,288.07 428.43,287.89 428.33,287.72 428.22,287.55 428.11,287.38 428.00,287.21 427.89,287.03 427.78,286.86 427.66,286.68 427.55,286.50 427.43,286.33 427.31,286.15 427.19,285.97 427.06,285.78 426.93,285.60 426.80,285.42 426.67,285.24 426.53,285.05 426.40,284.86 426.26,284.67 426.11,284.48 425.97,284.28 425.82,284.08 425.67,283.88 425.51,283.67 425.36,283.46 425.20,283.24 425.03,283.02 424.87,282.79 424.70,282.55 424.53,282.30 424.35,282.04 424.18,281.76 424.00,281.46 423.82,281.13 423.63,280.76 423.45,280.36 423.25,279.93 423.05,279.48 422.84,278.97 422.62,278.41 422.40,277.76 422.16,276.99 421.92,276.05 421.65,274.89 421.37,273.42 421.05,271.47 420.67,268.92 420.20,266.57 419.73,268.92 419.35,271.47 419.03,273.42 418.75,274.89 418.48,276.05 418.24,276.99 418.00,277.76 417.78,278.41 417.56,278.97 417.35,279.48 417.15,279.93 416.95,280.36 416.77,280.76 416.58,281.13 416.40,281.46 416.22,281.76 416.05,282.04 415.87,282.30 415.70,282.55 415.53,282.79 415.37,283.02 415.20,283.24 415.04,283.46 414.89,283.67 414.73,283.88 414.58,284.08 414.43,284.28 414.29,284.48 414.14,284.67 414.00,284.86 413.87,285.05 413.73,285.24 413.60,285.42 413.47,285.60 413.34,285.78 413.21,285.97 413.09,286.15 412.97,286.33 412.85,286.50 412.74,286.68 412.62,286.86 412.51,287.03 412.40,287.21 412.29,287.38 412.18,287.55 412.07,287.72 411.97,287.89 411.87,288.07 411.78,288.24 411.69,288.42 411.60,288.59 411.51,288.77 411.42,288.94 411.33,289.11 411.24,289.28 411.15,289.45 411.06,289.62 410.97,289.78 410.87,289.94 410.77,290.10 410.67,290.27 410.58,290.43 410.49,290.60 410.40,290.76 410.31,290.93 410.23,291.10 410.14,291.27 410.06,291.44 409.99,291.61 409.91,291.79 409.84,291.96 409.77,292.14 409.70,292.32 409.64,292.50 409.57,292.68 409.51,292.86 409.46,293.04 409.40,293.22 409.34,293.41 409.29,293.59 409.24,293.78 409.18,293.97 409.14,294.15 409.09,294.34 409.04,294.53 409.00,294.72 408.96,294.92 408.92,295.11 408.89,295.30 408.86,295.50 408.89,295.70 408.92,295.89 408.96,296.08 409.00,296.28 409.04,296.47 409.09,296.66 409.14,296.85 409.18,297.03 409.24,297.22 409.29,297.41 409.34,297.59 409.40,297.78 409.46,297.96 409.51,298.14 409.57,298.32 409.64,298.50 409.70,298.68 409.77,298.86 409.84,299.04 409.91,299.21 409.99,299.39 410.06,299.56 410.14,299.73 410.23,299.90 410.31,300.07 410.40,300.24 410.49,300.40 410.58,300.57 410.67,300.73 410.77,300.90 410.87,301.06 410.97,301.22 411.06,301.38 411.15,301.55 411.24,301.72 411.33,301.89 411.42,302.06 411.51,302.23 411.60,302.41 411.69,302.58 411.78,302.76 411.87,302.93 411.97,303.11 412.07,303.28 412.18,303.45 412.29,303.62 412.40,303.79 412.51,303.97 412.62,304.14 412.74,304.32 412.85,304.50 412.97,304.67 413.09,304.85 413.21,305.03 413.34,305.22 413.47,305.40 413.60,305.58 413.73,305.76 413.87,305.95 414.00,306.14 414.14,306.33 414.29,306.52 414.43,306.72 414.58,306.92 414.73,307.12 414.89,307.33 415.04,307.54 415.20,307.76 415.37,307.98 415.53,308.21 415.70,308.45 415.87,308.70 416.05,308.96 416.22,309.24 416.40,309.54 416.58,309.87 416.77,310.24 416.95,310.64 417.15,311.07 417.35,311.52 417.56,312.03 417.78,312.59 418.00,313.24 418.24,314.01 418.48,314.95 418.75,316.11 419.03,317.58 419.35,319.53 419.73,322.08 420.20,324.43 420.67,322.08 421.05,319.53 421.37,317.58 421.65,316.11 421.92,314.95 422.16,314.01 422.40,313.24 422.62,312.59 422.84,312.03 423.05,311.52 423.25,311.07 423.45,310.64 423.63,310.24 423.82,309.87 424.00,309.54 424.18,309.24 424.35,308.96 424.53,308.70 424.70,308.45 424.87,308.21 425.03,307.98 425.20,307.76 425.36,307.54 425.51,307.33 425.67,307.12 425.82,306.92 425.97,306.72 426.11,306.52 426.26,306.33 426.40,306.14 426.53,305.95 426.67,305.76 426.80,305.58 426.93,305.40 427.06,305.22 427.19,305.03 427.31,304.85 427.43,304.67 427.55,304.50 427.66,304.32 427.78,304.14 427.89,303.97 428.00,303.79 428.11,303.62 428.22,303.45 428.33,303.28 428.43,303.11 428.53,302.93 428.62,302.76 428.71,302.58 428.80,302.41 428.89,302.23 428.98,302.06 429.07,301.89 429.16,301.72 429.25,301.55 429.34,301.38 429.43,301.22 429.53,301.06 429.63,300.90 429.73,300.73 429.82,300.57 429.91,300.40 430.00,300.24 430.09,300.07 430.17,299.90 430.26,299.73 430.34,299.56 430.41,299.39 430.49,299.21 430.56,299.04 430.63,298.86 430.70,298.68 430.76,298.50 430.83,298.32 430.89,298.14 430.94,297.96 431.00,297.78 431.06,297.59 431.11,297.41 431.16,297.22 431.22,297.03 431.26,296.85 431.31,296.66 431.36,296.47 431.40,296.28 431.44,296.08 431.48,295.89 431.51,295.70 431.54,295.50" fill="none" stroke="#22f022" stroke-width="1.9" stroke-linejoin="round"/>
<path d="M463.6 360.3H486.8" stroke="#22f022" stroke-width="1.7"/>
<path d="M463.6 372.9H486.8" stroke="#1616e6" stroke-width="1.7"/>
<text transform="translate(489 363.6)" font-size="9.2" fill="#fff" stroke="#fff" stroke-width="0.2">50 K</text>
<text transform="translate(489 376.2)" font-size="9.2" fill="#fff" stroke="#fff" stroke-width="0.2">25 K</text>
<text transform="translate(333.0 222)" font-size="11.5" font-weight="bold" fill="#fff" stroke="#fff" stroke-width="0.15">c</text>
<text transform="translate(494.5 222.7)" font-size="14" font-weight="bold" fill="#fff" stroke="#fff" stroke-width="0.15" font-style="italic">T</text>
<text transform="translate(420.5 418.3) scale(0.97 1)" font-size="10.0" text-anchor="middle" fill="#000" stroke="#000" stroke-width="0.42"><tspan font-style="italic">I</tspan><tspan font-size="7" dy="2.4">c</tspan><tspan dy="-2.4">(</tspan><tspan font-style="italic">T</tspan>,<tspan dx="1.1" style="font-family:'Liberation Serif','DejaVu Serif',serif">θ</tspan><tspan dx="1.1">)</tspan>·cos(<tspan dx="1.1" style="font-family:'Liberation Serif','DejaVu Serif',serif">θ</tspan><tspan dx="1.1">)</tspan> (A)</text>
<text transform="translate(293.4 296) rotate(-90)" font-size="9.8" text-anchor="middle" fill="#000" stroke="#000" stroke-width="0.42"><tspan font-style="italic">I</tspan><tspan font-size="7" dy="2.4">c</tspan><tspan dy="-2.4">(</tspan><tspan font-style="italic">T</tspan>,<tspan dx="1.1" style="font-family:'Liberation Serif','DejaVu Serif',serif">θ</tspan><tspan dx="1.1">)</tspan>·sin(<tspan dx="1.1" style="font-family:'Liberation Serif','DejaVu Serif',serif">θ</tspan><tspan dx="1.1">)</tspan> (A)</text>
<path d="M249.50 125.00L101.92 262.45" stroke="#d8186a" stroke-width="1.3" fill="none"/><path d="M97.90 266.20L100.88 259.87L104.43 263.67Z" fill="#d8186a"/>
<path d="M249.50 125.00L399.53 268.60" stroke="#d8186a" stroke-width="1.3" fill="none"/><path d="M403.50 272.40L397.01 269.78L400.60 266.03Z" fill="#d8186a"/>
<path d="M336.40 147.60L184.10 360.63" stroke="#ff8a14" stroke-width="1.2" fill="none"/><path d="M180.90 365.10L182.73 358.42L186.63 361.21Z" fill="#ff8a14"/>
<path d="M336.40 147.60L424.03 297.55" stroke="#ff8a14" stroke-width="1.2" fill="none"/><path d="M426.80 302.30L421.45 297.90L425.59 295.48Z" fill="#ff8a14"/>
<rect x="247.2" y="122.7" width="4.6" height="4.6" fill="#e8147a"/>
<path d="M336.4 144.6L339.2 149.6L333.59999999999997 149.6Z" fill="#ff8a14"/>
</svg>
</body></html>
